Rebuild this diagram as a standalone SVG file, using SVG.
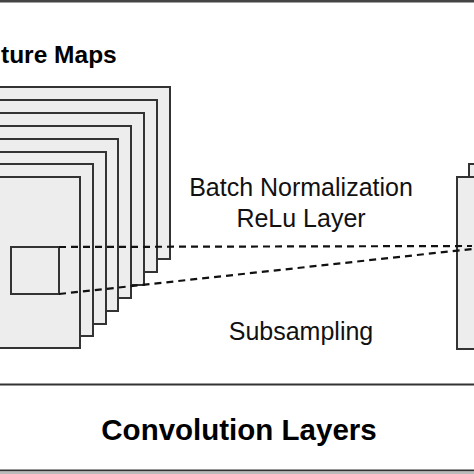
<svg xmlns="http://www.w3.org/2000/svg" width="474" height="474" viewBox="0 0 474 474">
<style>
.fm{fill:#ededed;stroke:#333;stroke-width:2}
.dash{fill:none;stroke:#111;stroke-width:2.2;stroke-dasharray:7 5}
.rule{stroke:#333;stroke-width:2}
.t{font-family:"Liberation Sans",Arial,sans-serif;font-size:25px;fill:#111}
.b{font-family:"Liberation Sans",Arial,sans-serif;font-weight:bold;fill:#000}
</style>
<rect x="0" y="0" width="474" height="474" fill="#fff"/>
<rect x="0" y="0" width="474" height="2.5" fill="#444"/>
<line class="rule" x1="0" y1="384.5" x2="474" y2="384.5"/>
<line class="rule" x1="0" y1="470.5" x2="474" y2="470.5"/>
<rect x="0" y="471.5" width="474" height="2.5" fill="#bbb"/>
<g id="feature-maps">
<rect class="fm" x="-2" y="87" width="172" height="172"/>
<rect class="fm" x="-15" y="100" width="172" height="172"/>
<rect class="fm" x="-28" y="113" width="172" height="172"/>
<rect class="fm" x="-41" y="126" width="172" height="172"/>
<rect class="fm" x="-54" y="139" width="172" height="172"/>
<rect class="fm" x="-66" y="152" width="172" height="172"/>
<rect class="fm" x="-79" y="164" width="172" height="172"/>
<rect class="fm" x="-92" y="177" width="172" height="171"/>
<rect class="fm" x="11" y="247" width="48" height="47"/>
</g>
<g id="output-maps">
<rect class="fm" x="469" y="164" width="60" height="172"/>
<rect class="fm" x="457" y="177" width="60" height="172"/>
</g>
<g id="connectors">
<line class="dash" x1="59" y1="247" x2="472" y2="246"/>
<line class="dash" x1="59" y1="294" x2="472" y2="249"/>
</g>
<g id="labels">
<text class="b" x="1" y="63" font-size="24.5">ture Maps</text>
<text class="t" x="301" y="196" text-anchor="middle">Batch Normalization</text>
<text class="t" x="301" y="227" text-anchor="middle">ReLu Layer</text>
<text class="t" x="301" y="340" text-anchor="middle">Subsampling</text>
<text class="b" x="239" y="440" font-size="29.5" text-anchor="middle">Convolution Layers</text>
</g>
</svg>
